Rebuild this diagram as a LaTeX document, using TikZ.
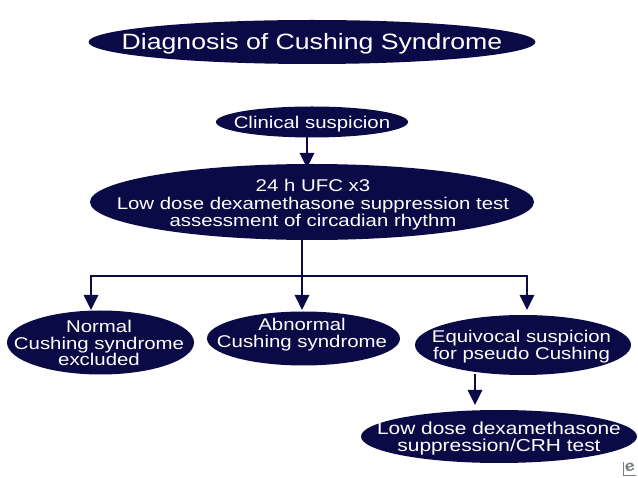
\documentclass[tikz,border=0pt]{standalone}
\usepackage{fontspec}
\setmainfont[FakeStretch=1.2]{Liberation Sans}
\usetikzlibrary{shapes.geometric,arrows.meta}
\definecolor{navy}{RGB}{10,10,70}
\definecolor{logogray}{RGB}{120,125,125}
\tikzset{
 oval/.style={ellipse,fill=navy,inner sep=0pt},
 lbl/.style={inner sep=0pt,text=white,align=center,font=\fontsize{17}{17.2}\selectfont},
 conn/.style={draw=navy,line width=2.8pt,-{Triangle[length=15pt,width=14pt]}},
 plain/.style={draw=navy,line width=2.8pt}
}
\begin{document}
\begin{tikzpicture}[x=1pt,y=-1pt]
\useasboundingbox (0,0) rectangle (638,478);
\node[oval,minimum width=447pt,minimum height=44pt] (title) at (312,42) {};
\node[oval,minimum width=192pt,minimum height=31pt] (clin) at (312,122) {};
\node[oval,minimum width=444pt,minimum height=76pt] (test) at (312,202) {};
\node[oval,minimum width=187pt,minimum height=64pt] (norm) at (100.5,342.5) {};
\node[oval,minimum width=193pt,minimum height=54pt] (abn) at (303.5,338.5) {};
\node[oval,minimum width=216pt,minimum height=60pt] (equi) at (523,345) {};
\node[oval,minimum width=276pt,minimum height=53pt] (low) at (499,436.5) {};
\node[lbl,font=\fontsize{22.2}{24}\selectfont] (titleT) at (312,44) {Diagnosis of Cushing Syndrome};
\node[lbl] (clinT) at (312,124) {Clinical suspicion};
\node[lbl,font=\fontsize{17}{17.6}\selectfont] (testT) at (313,205) {24 h UFC x3\\Low dose dexamethasone suppression test\\assessment of circadian rhythm};
\node[lbl,font=\fontsize{17}{16.6}\selectfont] (normT) at (99,343) {Normal\\Cushing syndrome\\excluded};
\node[lbl] (abnT) at (302,335) {Abnormal\\Cushing syndrome};
\node[lbl] (equiT) at (521.5,347) {Equivocal suspicion\\for pseudo Cushing};
\node[lbl,font=\fontsize{17.4}{17}\selectfont] (lowT) at (499,439) {Low dose dexamethasone\\suppression/CRH test};
\coordinate (bus) at (302,276);
\coordinate (busL) at (91,276);
\coordinate (busR) at (527,276);
\coordinate (clinFoot) at (307,136);
\coordinate (testTop) at (307,168);
\coordinate (testFoot) at (302,238);
\coordinate (normTop) at (91,310);
\coordinate (abnTop) at (302,310);
\coordinate (equiTop) at (527,310);
\coordinate (equiFoot) at (475,374);
\coordinate (lowTop) at (475,405);
\draw[conn] (clinFoot) -- (testTop);
\draw[plain] (testFoot) -- (bus);
\draw[conn] (bus) -- (abnTop);
\draw[conn] (busL) -- (normTop);
\draw[conn] (busR) -- (equiTop);
\draw[plain,line cap=rect] (busL) -- (busR);
\draw[conn] (equiFoot) -- (lowTop);
\node[font=\fontsize{15}{15}\selectfont\bfseries,inner sep=0pt,text=logogray,rotate=15] (logo) at (630,467) {e};
\draw[logogray,line width=1pt] (623,462) -- (623,476) -- (636,476);
\end{tikzpicture}
\end{document}
